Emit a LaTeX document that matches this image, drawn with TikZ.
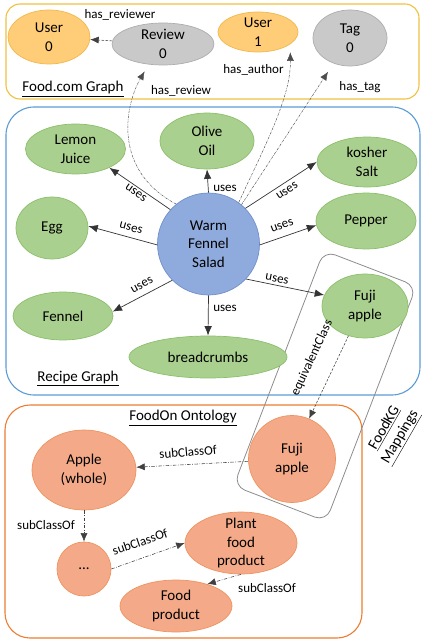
\documentclass[tikz,border=0pt]{standalone}
\usepackage{fontspec}
\setmainfont{Carlito}
\usetikzlibrary{shapes.geometric,arrows.meta}
\definecolor{ybox}{HTML}{F0C040}
\definecolor{bbox}{HTML}{5B9BD5}
\definecolor{obox}{HTML}{ED7D31}
\definecolor{mbox}{HTML}{8C8C8C}
\definecolor{ufill}{HTML}{FFCC77}
\definecolor{uline}{HTML}{F2B84B}
\definecolor{gyfill}{HTML}{C9C9C9}
\definecolor{gyline}{HTML}{ADADAD}
\definecolor{gfill}{HTML}{AAD08F}
\definecolor{gline}{HTML}{8BBF6A}
\definecolor{bfill}{HTML}{8FAADC}
\definecolor{bline}{HTML}{7090CC}
\definecolor{ofill}{HTML}{F4AA88}
\definecolor{oline}{HTML}{EE935F}
\begin{document}
\begin{tikzpicture}[x=1pt,y=-1pt,
  nt/.style={font=\fontsize{15}{18.5}\selectfont, align=center, text=black, inner sep=0pt},
  base/.style={line width=0.7pt, inner sep=0pt},
  un/.style={base, ellipse, fill=ufill, draw=uline},
  gyn/.style={base, ellipse, fill=gyfill, draw=gyline},
  gn/.style={base, ellipse, fill=gfill, draw=gline},
  bn/.style={base, circle, fill=bfill, draw=bline},
  on/.style={base, ellipse, fill=ofill, draw=oline},
  oc/.style={base, circle, fill=ofill, draw=oline},
  lbl/.style={font=\fontsize{13}{15}\selectfont, inner sep=0pt, text=black},
  ttl/.style={font=\fontsize{15}{18}\selectfont, inner sep=0pt, align=center, text=black},
  uses/.style={draw=black!80, line width=0.7pt, -{Latex[length=9.5pt,width=7.5pt]}},
  dd/.style={draw=black!75, line width=0.55pt, dash pattern=on 3.5pt off 1.5pt on 0.7pt off 1.5pt, -{Latex[length=8.5pt,width=7pt]}},
  ddt/.style={draw=black!70, line width=0.45pt, dash pattern=on 2.5pt off 1pt on 0.5pt off 1pt, -{Latex[length=8.5pt,width=7pt]}},
  dsh/.style={draw=black!75, line width=0.55pt, dash pattern=on 2.5pt off 1.5pt, -{Latex[length=8.5pt,width=7pt]}},
]
\useasboundingbox (0,0) rectangle (422,644);

% group boxes
\draw[ybox, line width=1.1pt, rounded corners=14pt] (6,4) rectangle (419,99);
\draw[bbox, line width=1.1pt, rounded corners=28pt] (6,107) rectangle (420,395);
\draw[obox, line width=1.1pt, rounded corners=25pt] (5,405) rectangle (362,638);
\node[draw=mbox, line width=0.8pt, rounded corners=12pt, minimum width=99pt, minimum height=252pt, rotate=-21, inner sep=0pt] (map) at (325,386) {};

% titles
\node[ttl] (t1) at (73,89) {\underline{Food.com Graph}};
\node[ttl] (t2) at (78,378) {\underline{Recipe Graph}};
\node[ttl] (t3) at (183,418) {\underline{FoodOn Ontology}};
\node[ttl, rotate=60] (t4) at (393,433) {\underline{FoodKG}\\\underline{Mappings}};

% Food.com graph nodes
\node[un, minimum width=82pt, minimum height=54pt, label={[nt]center:User\\0}] (user0) at (49,37) {};
\node[gyn, minimum width=102pt, minimum height=42pt, label={[nt]center:Review\\0}] (review) at (163,44) {};
\node[un, minimum width=80pt, minimum height=40pt, label={[nt]center:User\\1}] (user1) at (258,32) {};
\node[gyn, minimum width=74pt, minimum height=56pt, label={[nt]center:Tag\\0}] (tag) at (350,38) {};

% recipe nodes
\node[gn, minimum width=100pt, minimum height=50pt, label={[nt]center:Lemon\\Juice}] (lemon) at (75.5,149) {};
\node[gn, minimum width=94pt, minimum height=56pt, label={[nt]center:Olive\\Oil}] (olive) at (207,141) {};
\node[gn, minimum width=100pt, minimum height=50pt, label={[nt]center:kosher\\Salt}] (salt) at (367,162) {};
\node[gn, minimum width=72pt, minimum height=62pt, label={[nt]center:Egg}] (egg) at (52,228) {};
\node[gn, minimum width=100pt, minimum height=56pt, label={[nt]center:Pepper}] (pepper) at (366,221) {};
\node[bn, minimum size=102pt, label={[nt]center:Warm\\Fennel\\Salad}] (wfs) at (208.5,244) {};
\node[gn, minimum width=100pt, minimum height=48pt, label={[nt]center:Fennel}] (fennel) at (63,316) {};
\node[gn, minimum width=158pt, minimum height=42pt, label={[nt]center:breadcrumbs}] (bread) at (208,357) {};
\node[gn, minimum width=86pt, minimum height=64pt, label={[nt]center:Fuji\\apple}] (fujiR) at (365,306) {};

% FoodOn nodes
\node[oc, minimum size=87pt, label={[nt]center:Fuji\\apple}] (fujiO) at (292,459) {};
\node[on, minimum width=104pt, minimum height=80pt, label={[nt]center:Apple\\(whole)}] (apple) at (84,470) {};
\node[oc, minimum size=54pt, label={[nt]center:...}] (dots) at (84,569) {};
\node[on, minimum width=112pt, minimum height=62pt, label={[nt]center:Plant\\food\\product}] (plant) at (241,543) {};
\node[on, minimum width=112pt, minimum height=52pt, label={[nt]center:Food\\product}] (food) at (176,606) {};

% uses edges
\draw[uses] (wfs.138) -- (lemon.-29);
\draw[uses] (wfs.north) -- (olive.south);
\draw[uses] (wfs.44) -- (salt.west);
\draw[uses] (wfs.181) -- (egg.3);
\draw[uses] (wfs.-1) -- (pepper.185);
\draw[uses] (wfs.225) -- (fennel.5);
\draw[uses] (wfs.south) -- (bread.north);
\draw[uses] (wfs.-43) -- (fujiR.165);

\node[lbl, rotate=-35] (l1) at (136,193) {uses};
\node[lbl] (l2) at (225,188) {uses};
\node[lbl, rotate=33] (l3) at (287,191) {uses};
\node[lbl, rotate=-16] (l4) at (131,228) {uses};
\node[lbl, rotate=20] (l5) at (282,226) {uses};
\node[lbl, rotate=29] (l6) at (142,285) {uses};
\node[lbl] (l7) at (225,308) {uses};
\node[lbl, rotate=-11] (l8) at (277,279) {uses};

% Food.com links
\draw[dsh] (review) -- (user0);
\draw[ddt, shorten >=8pt] (wfs.129) .. controls (112,170) and (125,105) .. (review.235);
\draw[ddt, shorten >=8pt] (wfs.54) .. controls (268,140) and (291,95) .. (user1.-21);
\draw[ddt, shorten >=10pt] (wfs.50) -- (tag);

\node[lbl] (h1) at (120,15) {has\_reviewer};
\node[lbl] (h2) at (181,91) {has\_review};
\node[lbl] (h3) at (253.5,70) {has\_author};
\node[lbl] (h4) at (360,87) {has\_tag};

% mapping
\draw[dsh] (fujiR.241) -- (fujiO.67);
\node[lbl, rotate=65] (eq) at (312,358) {equivalentClass};

% FoodOn links
\draw[dd] (fujiO) -- (apple);
\draw[dd] (apple) -- (dots);
\draw[dd] (dots.east) -- (plant.west);
\draw[dd] (plant.south) -- (food.35);

\node[lbl, rotate=5] (s1) at (188,452) {subClassOf};
\node[lbl] (s2) at (46,525) {subClassOf};
\node[lbl, rotate=19] (s3) at (140,542) {subClassOf};
\node[lbl] (s4) at (267,588) {subClassOf};
\end{tikzpicture}
\end{document}
